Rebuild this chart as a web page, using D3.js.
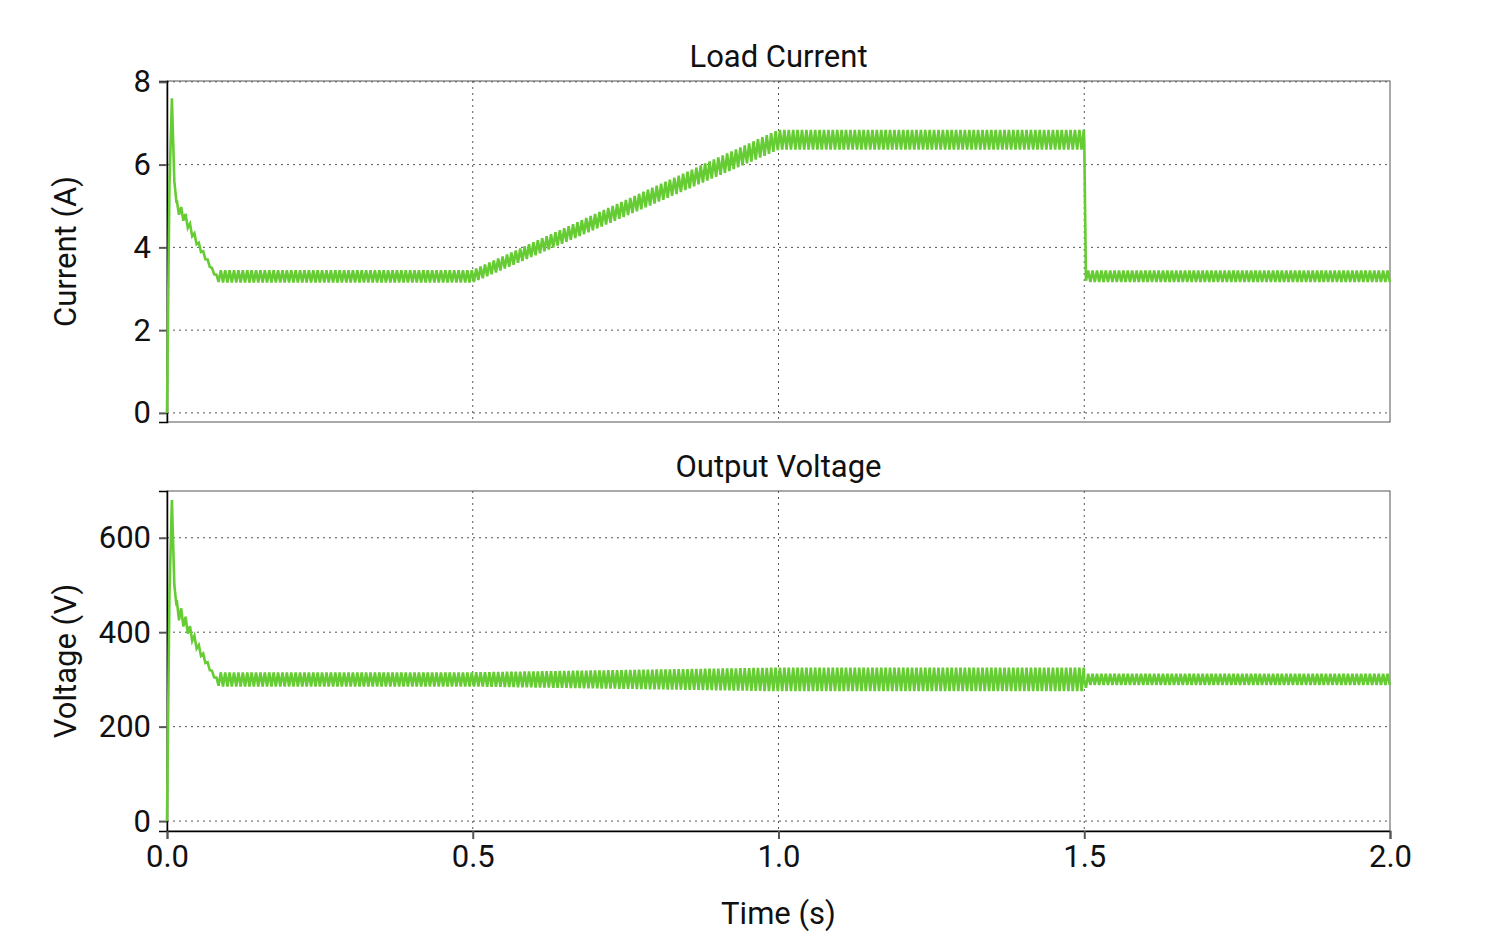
<!DOCTYPE html>
<html><head><meta charset="utf-8">
<script src="https://cdn.jsdelivr.net/npm/d3@7"></script>
<style>body{margin:0;background:#fff}text{font-family:"Roboto","DejaVu Sans",sans-serif;fill:#111}</style>
</head><body><svg id="c" width="1486" height="952"></svg>
<script>
// Envelope knots: time (s), centre value, ripple half-amplitude
const curT   = [0, 0.004, 0.008, 0.012, 0.016, 0.03, 0.05, 0.08, 0.085, 0.5, 1.0, 1.5, 1.501, 1.505, 2.0];
const curMid = [0, 5.5,   7.6,   5.6,   5.0,   4.7,  4.1,  3.3,  3.3,   3.3, 6.6, 6.6, 3.4,   3.3,   3.3];
const curAmp = [0, 0,     0,     0,     0.14,  0.12, 0.07, 0.02, 0.15,  0.15, 0.24, 0.24, 0.18, 0.14,  0.14];
const volT   = [0, 0.004, 0.008, 0.012, 0.016, 0.03, 0.05, 0.08, 0.085, 0.5, 1.0, 1.5, 1.505, 2.0];
const volMid = [0, 480,   680,   500,   450,   420,  370,  300,  300,   300, 300, 300, 300,   300];
const volAmp = [0, 0,     0,     0,     18,    14,   8,    2,    15,    15,  25,  25,  12,    12];
const ripplePeriod = 0.0072;
const xTicks = [0, 0.5, 1.0, 1.5, 2.0];
const curTicks = [0, 2, 4, 6, 8];
const volTicks = [0, 200, 400, 600];

const svg = d3.select("#c");
const L = 167, R = 1390;
const x = d3.scaleLinear().domain([0, 2]).range([L, R]);
const green = "#66cc33";
const FS = "31px";

function build(T, M, A) {
  const mid = d3.scaleLinear().domain(T).range(M);
  const amp = d3.scaleLinear().domain(T).range(A);
  const pts = [];
  d3.range(0, 0.016, 0.0005).forEach(t => pts.push([t, mid(t)]));
  let k = 0;
  for (let t = 0.016; t <= 2.0; t += ripplePeriod / 2, k++) {
    if (t > 1.5 && t - ripplePeriod/2 <= 1.5) { pts.push([1.5, mid(1.5)]); }
    pts.push([t, mid(t) + (k % 2 ? -1 : 1) * amp(t)]);
  }
  return pts;
}

function panel(top, bot, dom, ticks, title, ylab, T, M, A) {
  const y = d3.scaleLinear().domain(dom).range([bot, top]);
  const g = svg.append("g");
  xTicks.slice(1, -1).forEach(v => g.append("line").attr("x1", x(v)).attr("x2", x(v)).attr("y1", top).attr("y2", bot)
    .attr("stroke", "#555").attr("stroke-dasharray", "2,4"));
  ticks.forEach(v => g.append("line").attr("x1", L).attr("x2", R).attr("y1", y(v)).attr("y2", y(v))
    .attr("stroke", "#555").attr("stroke-dasharray", "2,4"));
  g.append("rect").attr("x", L).attr("y", top).attr("width", R - L).attr("height", bot - top)
    .attr("fill", "none").attr("stroke", "#555").attr("stroke-width", 1);
  const ax = g.append("g").attr("transform", `translate(${L},0)`)
    .call(d3.axisLeft(y).tickValues(ticks).tickSize(8).tickPadding(8).tickFormat(d3.format("d")));
  ax.select(".domain").attr("stroke", "#000").attr("stroke-width", 1.5);
  ax.selectAll(".tick line").attr("stroke", "#555").attr("stroke-width", 2);
  ax.selectAll("text").style("font-size", FS);
  g.append("text").attr("x", (L + R) / 2).attr("y", top - 14).attr("text-anchor", "middle").style("font-size", FS).text(title);
  g.append("text").attr("transform", `translate(76,${(top + bot) / 2}) rotate(-90)`).attr("text-anchor", "middle").style("font-size", FS).text(ylab);
  const line = d3.line().x(d => x(d[0])).y(d => y(d[1]));
  g.append("path").datum(build(T, M, A)).attr("d", line).attr("fill", "none").attr("stroke", green).attr("stroke-width", 2.6);
  return g;
}
panel(81, 422, [-0.22, 8.02], curTicks, "Load Current", "Current (A)", curT, curMid, curAmp);
panel(491, 831, [-21, 699], volTicks, "Output Voltage", "Voltage (V)", volT, volMid, volAmp);
const xa = svg.append("g").attr("transform", "translate(0,831)").call(d3.axisBottom(x).tickValues(xTicks).tickSize(8).tickPadding(6).tickFormat(d3.format(".1f")));
xa.select(".domain").attr("stroke", "#000").attr("stroke-width", 1.5);
xa.selectAll(".tick line").attr("stroke", "#555").attr("stroke-width", 2);
xa.selectAll("text").style("font-size", FS);
svg.append("text").attr("x", (L + R) / 2).attr("y", 924).attr("text-anchor", "middle").style("font-size", FS).text("Time (s)");
</script></body></html>
